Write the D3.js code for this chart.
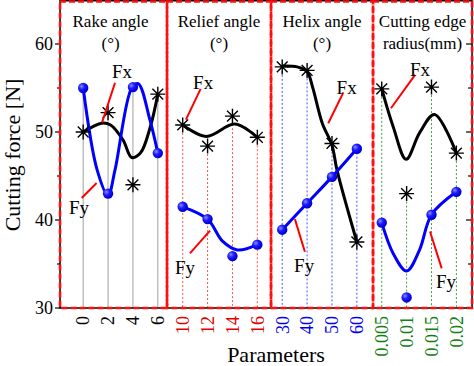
<!DOCTYPE html>
<html><head><meta charset="utf-8">
<script src="https://cdn.jsdelivr.net/npm/d3@7"></script>
<style>
html,body{margin:0;padding:0;background:#fff;}
svg{display:block;font-family:"Liberation Serif","Times New Roman",serif;}
</style></head>
<body>
<svg id="chart" width="474" height="366"></svg>
<script>
// ---------- data ----------
const panelTitles = [["Rake angle","(°)"],["Relief angle","(°)"],["Helix angle","(°)"],["Cutting edge","radius(mm)"]];
const panelColors = ["#000000","#e00000","#0000ee","#108010"];
const dropColors  = ["#a0a0a0","#ff5050","#5050ff","#40a040"];
const tickLabels = [["0","2","4","6"],["10","12","14","16"],["30","40","50","60"],["0.005","0.01","0.015","0.02"]];
const paramValues = [[0,2,4,6],[10,12,14,16],[30,40,50,60],[0.005,0.01,0.015,0.02]];
const fxValues = [[50.0,52.2,44.0,54.3],[50.8,48.4,51.8,49.4],[57.4,57.0,48.7,37.5],[54.9,43.0,55.1,47.6]];
const fyValues = [[55.0,43.0,55.1,47.6],[41.5,40.1,35.9,37.2],[38.9,41.9,44.9,48.1],[39.7,31.2,40.6,43.2]];
// fitted curves: [parameter, force]
const fxCurves = [
  [[0,50.0],[1.5,51.0],[2.2,50.8],[3.2,49.1],[3.9,47.1],[4.6,47.6],[5.4,50.6],[6,54.3]],
  [[10,50.8],[11.9,49.5],[14.2,50.9],[16,49.4]],
  [[30,57.5],[36,57.4],[40,56.85],[42.2,55.1],[46.1,51.0],[50,48.5],[52,45.7],[60,37.5]],
  [[0.005,54.9],[0.0073,50.6],[0.0099,46.9],[0.0126,49.9],[0.0156,52.0],[0.02,47.6]]
];
const fyCurves = [
  [[0,55.0],[1.12,45.7],[2,42.8],[2.56,45.7],[3.9,55.0],[4.42,55.5],[5.36,51.4],[6,47.6]],
  [[10,41.5],[12,40.1],[13.2,37.6],[14.4,36.6],[16,37.2]],
  [[30,38.9],[40,41.9],[50,44.9],[60,48.1]],
  [[0.005,39.7],[0.0073,36.2],[0.01,34.2],[0.0126,36.6],[0.015,40.6],[0.02,43.2]]
];
// label annotations: [series, textIndex, textValue, lineIndex1, lineValue1, lineIndex2, lineValue2]
const annotations = [
  ["Fx",2.56,56.9,2.28,55.6,1.76,51.1],
  ["Fy",0.83,41.5,0.94,42.5,1.54,44.2],
  ["Fx",5.82,55.7,5.72,54.9,5.13,51.4],
  ["Fy",5.09,34.6,5.29,36.2,6.10,38.8],
  ["Fx",11.59,55.1,11.46,54.5,10.85,51.0],
  ["Fy",9.88,34.9,9.91,36.4,9.51,40.1],
  ["Fx",14.54,57.1,14.34,56.5,13.37,52.7],
  ["Fy",15.58,33.1,15.41,34.5,14.94,38.7]
];
const panelBounds = [0.07, 4.37, 8.55, 12.65, 16.63];
const yTicks = [30,40,50,60];
const yMinorTicks = [35,45,55];

// ---------- scales ----------
const svg = d3.select("#chart");
const x = d3.scaleLinear().domain([0,17]).range([58.3, 58.3+17*24.88]);
const y = d3.scaleLinear().domain([30,65]).range([308,0]);
const pLeft = x(panelBounds[0]), pRight = x(panelBounds[4]), pTop = y(65), pBottom = y(30);
const serif = '"Liberation Serif","Times New Roman",serif';

const defs = svg.append("defs");
const grad = defs.append("radialGradient").attr("id","ball").attr("cx","35%").attr("cy","35%").attr("r","65%");
grad.append("stop").attr("offset","0%").attr("stop-color","#8c8cff");
grad.append("stop").attr("offset","45%").attr("stop-color","#1a1aff");
grad.append("stop").attr("offset","100%").attr("stop-color","#0000c8");

function panelScale(p){
  const v = paramValues[p];
  return d3.scaleLinear().domain([v[0], v[3]]).range([4*p+1, 4*p+4]);
}

// drop lines
paramValues.forEach((vals,p)=>{
  const ps = panelScale(p);
  vals.forEach((v,i)=>{
    const t2 = Math.max(fxValues[p][i], fyValues[p][i]);
    svg.append("line")
      .attr("x1", x(ps(v))).attr("x2", x(ps(v)))
      .attr("y1", y(t2)).attr("y2", pBottom)
      .attr("stroke", dropColors[p]).attr("stroke-width", 1)
      .attr("stroke-dasharray", p===0 ? null : "2,2");
  });
});

// frame (black)
svg.append("rect").attr("x",pLeft).attr("y",pTop+0.75).attr("width",pRight-pLeft).attr("height",pBottom-pTop-0.75)
  .attr("fill","none").attr("stroke","#000").attr("stroke-width",1.5);

// y axis ticks (left outward, right inward)
const tickG = svg.append("g");
yTicks.forEach(t=>{
  tickG.append("line").attr("x1",pLeft-5).attr("x2",pLeft).attr("y1",y(t)).attr("y2",y(t)).attr("stroke","#000").attr("stroke-width",1.2);
  tickG.append("line").attr("x1",pRight-6).attr("x2",pRight).attr("y1",y(t)).attr("y2",y(t)).attr("stroke","#000").attr("stroke-width",1.2);
  tickG.append("text").attr("x",pLeft-7).attr("y",y(t)).attr("dy","0.35em").attr("text-anchor","end")
    .attr("font-size",18).attr("font-family",serif).text(t);
});
yMinorTicks.forEach(t=>{
  tickG.append("line").attr("x1",pLeft-3).attr("x2",pLeft).attr("y1",y(t)).attr("y2",y(t)).attr("stroke","#000").attr("stroke-width",1.2);
  tickG.append("line").attr("x1",pRight-4).attr("x2",pRight).attr("y1",y(t)).attr("y2",y(t)).attr("stroke","#000").attr("stroke-width",1.2);
});

// curves
const line = d3.line().x(d=>d[0]).y(d=>d[1]).curve(d3.curveCatmullRom.alpha(0.5));
fxCurves.forEach((c,p)=>{
  const ps = panelScale(p);
  svg.append("path").attr("d", line(c.map(d=>[x(ps(d[0])), y(d[1])])))
    .attr("fill","none").attr("stroke","#000").attr("stroke-width",3);
});
fyCurves.forEach((c,p)=>{
  const ps = panelScale(p);
  svg.append("path").attr("d", line(c.map(d=>[x(ps(d[0])), y(d[1])])))
    .attr("fill","none").attr("stroke","#0000ff").attr("stroke-width",3);
});

// markers
paramValues.forEach((vals,p)=>{
  const ps = panelScale(p);
  vals.forEach((v,i)=>{
    const cx = x(ps(v));
    const cy = y(fxValues[p][i]), r = 7.5, d = r*0.72;
    svg.append("path")
      .attr("d", `M${cx-r},${cy}H${cx+r}M${cx},${cy-r}V${cy+r}M${cx-d},${cy-d}L${cx+d},${cy+d}M${cx-d},${cy+d}L${cx+d},${cy-d}`)
      .attr("stroke","#000").attr("stroke-width",1.4).attr("fill","none");
    svg.append("circle").attr("cx",cx).attr("cy",y(fyValues[p][i])).attr("r",5.2)
      .attr("fill","url(#ball)");
  });
});

// annotations
annotations.forEach(a=>{
  svg.append("line").attr("x1",x(a[3])).attr("y1",y(a[4])).attr("x2",x(a[5])).attr("y2",y(a[6]))
    .attr("stroke","#ff0000").attr("stroke-width",2);
  svg.append("text").attr("x",x(a[1])).attr("y",y(a[2])).attr("dy","0.36em").attr("text-anchor","middle")
    .attr("font-size",19).attr("font-family",serif).text(a[0]);
});

// red dashed panel rectangles
for(let p=0;p<4;p++){
  const x0 = x(panelBounds[p]), x1 = x(panelBounds[p+1]);
  svg.append("rect").attr("x",x0).attr("y",pTop+1.5).attr("width",x1-x0).attr("height",pBottom-pTop-1.5)
    .attr("fill","none").attr("stroke","#ff1010").attr("stroke-width",2.6).attr("stroke-dasharray","6,3");
}

// panel titles
panelTitles.forEach((t,p)=>{
  const cx = (x(panelBounds[p]) + x(panelBounds[p+1]))/2 - (p===0?3:0);
  svg.append("text").attr("x",cx).attr("y",21).attr("dy","0.35em").attr("text-anchor","middle")
    .attr("font-size",17).attr("font-family",serif).text(t[0]);
  svg.append("text").attr("x",cx).attr("y",43).attr("dy","0.35em").attr("text-anchor","middle")
    .attr("font-size",17).attr("font-family",serif).text(t[1]);
});

// x tick labels (rotated)
tickLabels.forEach((labs,p)=>{
  const ps = panelScale(p);
  labs.forEach((l,i)=>{
    const cx = x(ps(paramValues[p][i]));
    svg.append("text").attr("transform",`translate(${cx},${pBottom+8}) rotate(-90)`)
      .attr("dy","0.35em").attr("text-anchor","end")
      .attr("font-size",18).attr("font-family",serif).attr("fill",panelColors[p]).text(l);
  });
});

// axis titles
svg.append("text").attr("x",276).attr("y",362).attr("text-anchor","middle")
  .attr("font-size",22).attr("font-family",serif).text("Parameters");
svg.append("text").attr("transform",`translate(20,155) rotate(-90)`).attr("text-anchor","middle")
  .attr("font-size",22).attr("font-family",serif).text("Cutting force [N]");
</script>
</body></html>
